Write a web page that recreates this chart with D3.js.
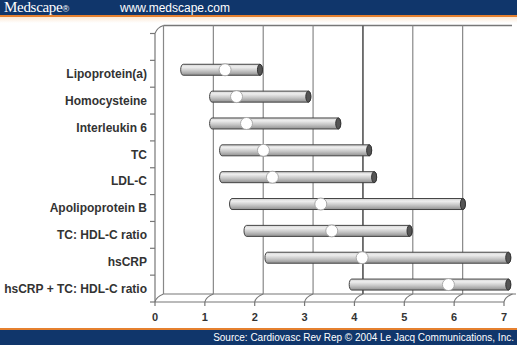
<!DOCTYPE html>
<html>
<head>
<meta charset="utf-8">
<script src="https://cdn.jsdelivr.net/npm/d3@7"></script>
<style>
  body { margin: 0; background: #fff; }
  svg { display: block; }
</style>
</head>
<body>
<div id="chart"></div>
<script>
// data
const categories = ['Lipoprotein(a)', 'Homocysteine', 'Interleukin 6', 'TC', 'LDL-C',
  'Apolipoprotein B', 'TC: HDL-C ratio', 'hsCRP', 'hsCRP + TC: HDL-C ratio'];
const lows    = [0.48, 1.06, 1.06, 1.26, 1.26, 1.46, 1.75, 2.17, 3.86];
const highs   = [2.02, 2.99, 3.59, 4.21, 4.31, 6.09, 5.02, 7.0, 7.0];
const medians = [1.32, 1.55, 1.75, 2.09, 2.27, 3.24, 3.46, 4.07, 5.8];
const xTicks = [0, 1, 2, 3, 4, 5, 6, 7];

const W = 517, H = 345;
const depth = { dx: 8.5, dy: -8 };

const svg = d3.select('#chart').append('svg')
  .attr('width', W).attr('height', H);

const defs = svg.append('defs');
const grad = defs.append('linearGradient').attr('id', 'cyl')
  .attr('x1', 0).attr('y1', 0).attr('x2', 0).attr('y2', 1);
grad.append('stop').attr('offset', '0%').attr('stop-color', '#d4d4d4');
grad.append('stop').attr('offset', '25%').attr('stop-color', '#eeeeee');
grad.append('stop').attr('offset', '60%').attr('stop-color', '#c6c6c6');
grad.append('stop').attr('offset', '100%').attr('stop-color', '#909090');

const fade = defs.append('linearGradient').attr('id', 'fade')
  .attr('x1', 0).attr('y1', 0).attr('x2', 0).attr('y2', 1);
fade.append('stop').attr('offset', '0%').attr('stop-color', '#fbe9d6');
fade.append('stop').attr('offset', '100%').attr('stop-color', '#ffffff');

// header
svg.append('rect').attr('x', 0).attr('y', 0).attr('width', W).attr('height', 15).attr('fill', '#10366b');
svg.append('rect').attr('x', 0).attr('y', 15).attr('width', W).attr('height', 2).attr('fill', '#e5802f');
svg.append('rect').attr('x', 0).attr('y', 17).attr('width', W).attr('height', 6).attr('fill', 'url(#fade)');
svg.append('text').attr('x', 4).attr('y', 12)
  .attr('font-family', 'Liberation Serif, serif').attr('font-size', 15).attr('fill', '#fff')
  .attr('letter-spacing', -0.3)
  .text('Medscape').append('tspan').attr('font-size', 9).attr('font-family', 'Liberation Sans, sans-serif').text('®');
svg.append('text').attr('x', 120).attr('y', 12)
  .attr('font-family', 'Liberation Sans, Arial, sans-serif').attr('font-size', 12).attr('fill', '#fff')
  .text('www.medscape.com');

// footer
svg.append('rect').attr('x', 0).attr('y', 328).attr('width', W).attr('height', 2).attr('fill', '#e5802f');
svg.append('rect').attr('x', 0).attr('y', 330).attr('width', W).attr('height', 15).attr('fill', '#10366b');
svg.append('text').attr('x', 514).attr('y', 341).attr('text-anchor', 'end')
  .attr('font-family', 'Liberation Sans, Arial, sans-serif').attr('font-size', 10).attr('fill', '#fff')
  .text('Source: Cardiovasc Rev Rep \u00a9 2004 Le Jacq Communications, Inc.');

// scales
const x = d3.scaleLinear().domain([0, 7]).range([155, 504]);
const y = d3.scaleBand().domain([''].concat(categories)).range([33.5, 302]).padding(0);

const yTop = y.range()[0], yBot = y.range()[1];
const g = svg.append('g');
const axisColor = '#777';

// back wall
g.append('line').attr('x1', x(0) + depth.dx).attr('x2', 512)
  .attr('y1', yTop + depth.dy).attr('y2', yTop + depth.dy)
  .attr('stroke', axisColor).attr('stroke-width', 1.5);
g.append('line').attr('x1', x(0) + depth.dx).attr('x2', 516)
  .attr('y1', yBot + depth.dy).attr('y2', yBot + depth.dy)
  .attr('stroke', axisColor).attr('stroke-width', 1.2);
g.selectAll('.grid').data(xTicks.filter(d => d < 7)).enter().append('line')
  .attr('class', 'grid')
  .attr('x1', d => x(d) + depth.dx).attr('x2', d => x(d) + depth.dx)
  .attr('y1', yTop + depth.dy).attr('y2', yBot + depth.dy)
  .attr('stroke', d => d === 4 ? '#666' : '#888')
  .attr('stroke-width', d => d === 4 ? 1.8 : 1.2);

// left axis (front) with band boundary ticks
g.append('line').attr('x1', x(0)).attr('x2', x(0)).attr('y1', yTop).attr('y2', yBot)
  .attr('stroke', axisColor).attr('stroke-width', 1.2);
g.append('path')
  .attr('d', `M${x(0)},${yTop} Q${x(0) + 2},${yTop - 6} ${x(0) + depth.dx},${yTop + depth.dy}`)
  .attr('fill', 'none').attr('stroke', axisColor).attr('stroke-width', 1.2);
const bounds = y.domain().map(d => y(d)).concat([yBot]);
g.selectAll('.ytick').data(bounds).enter().append('line')
  .attr('x1', x(0) - 5).attr('x2', x(0))
  .attr('y1', d => d).attr('y2', d => d)
  .attr('stroke', axisColor).attr('stroke-width', 1.2);

// floor front edge + tick connectors
g.append('line').attr('x1', x(0)).attr('x2', x(7)).attr('y1', yBot).attr('y2', yBot)
  .attr('stroke', axisColor).attr('stroke-width', 1.2);
g.selectAll('.xtick').data(xTicks).enter().append('path')
  .attr('d', d => `M${x(d)},${yBot + 4} L${x(d)},${yBot} Q${x(d) + 1},${yBot - 5} ${x(d) + depth.dx},${yBot + depth.dy}`)
  .attr('fill', 'none').attr('stroke', axisColor).attr('stroke-width', 1.2);

g.selectAll('.xlabel').data(xTicks).enter().append('text')
  .attr('x', d => x(d)).attr('y', 321).attr('text-anchor', 'middle')
  .attr('font-family', 'Liberation Sans, Arial, sans-serif').attr('font-weight', 'bold')
  .attr('font-size', 11).attr('fill', '#333')
  .text(d => d);

// category labels
g.selectAll('.ylabel').data(categories).enter().append('text')
  .attr('x', 147).attr('y', d => y(d) + y.bandwidth() / 2)
  .attr('dy', '0.36em').attr('text-anchor', 'end')
  .attr('font-family', 'Liberation Sans, Arial, sans-serif').attr('font-weight', 'bold')
  .attr('font-size', 12).attr('fill', '#333')
  .text(d => d);

// cylinders at mid depth
const rows = categories.map((c, i) => ({ c, lo: lows[i], hi: highs[i], med: medians[i] }));
const hb = 5.5, rx = 2.5;
const ox = depth.dx / 2, oy = depth.dy / 2;
const bars = g.selectAll('.bar').data(rows).enter().append('g').attr('class', 'bar')
  .attr('transform', d => `translate(${ox},${y(d.c) + y.bandwidth() / 2 + oy})`);

bars.append('path')
  .attr('d', d => {
    const x1 = x(d.lo), x2 = x(d.hi);
    return `M${x2},${-hb} L${x1},${-hb} A${rx},${hb} 0 0 0 ${x1},${hb} L${x2},${hb} A${rx},${hb} 0 0 0 ${x2},${-hb} Z`;
  })
  .attr('fill', 'url(#cyl)').attr('stroke', '#444').attr('stroke-width', 1);
bars.append('ellipse')
  .attr('cx', d => x(d.hi)).attr('cy', 0).attr('rx', rx).attr('ry', hb)
  .attr('fill', '#555').attr('stroke', '#333').attr('stroke-width', 1);
bars.append('circle')
  .attr('cx', d => x(d.med)).attr('cy', 0).attr('r', 6)
  .attr('fill', '#fff').attr('stroke', '#aaa').attr('stroke-width', 1);
</script>
</body>
</html>
